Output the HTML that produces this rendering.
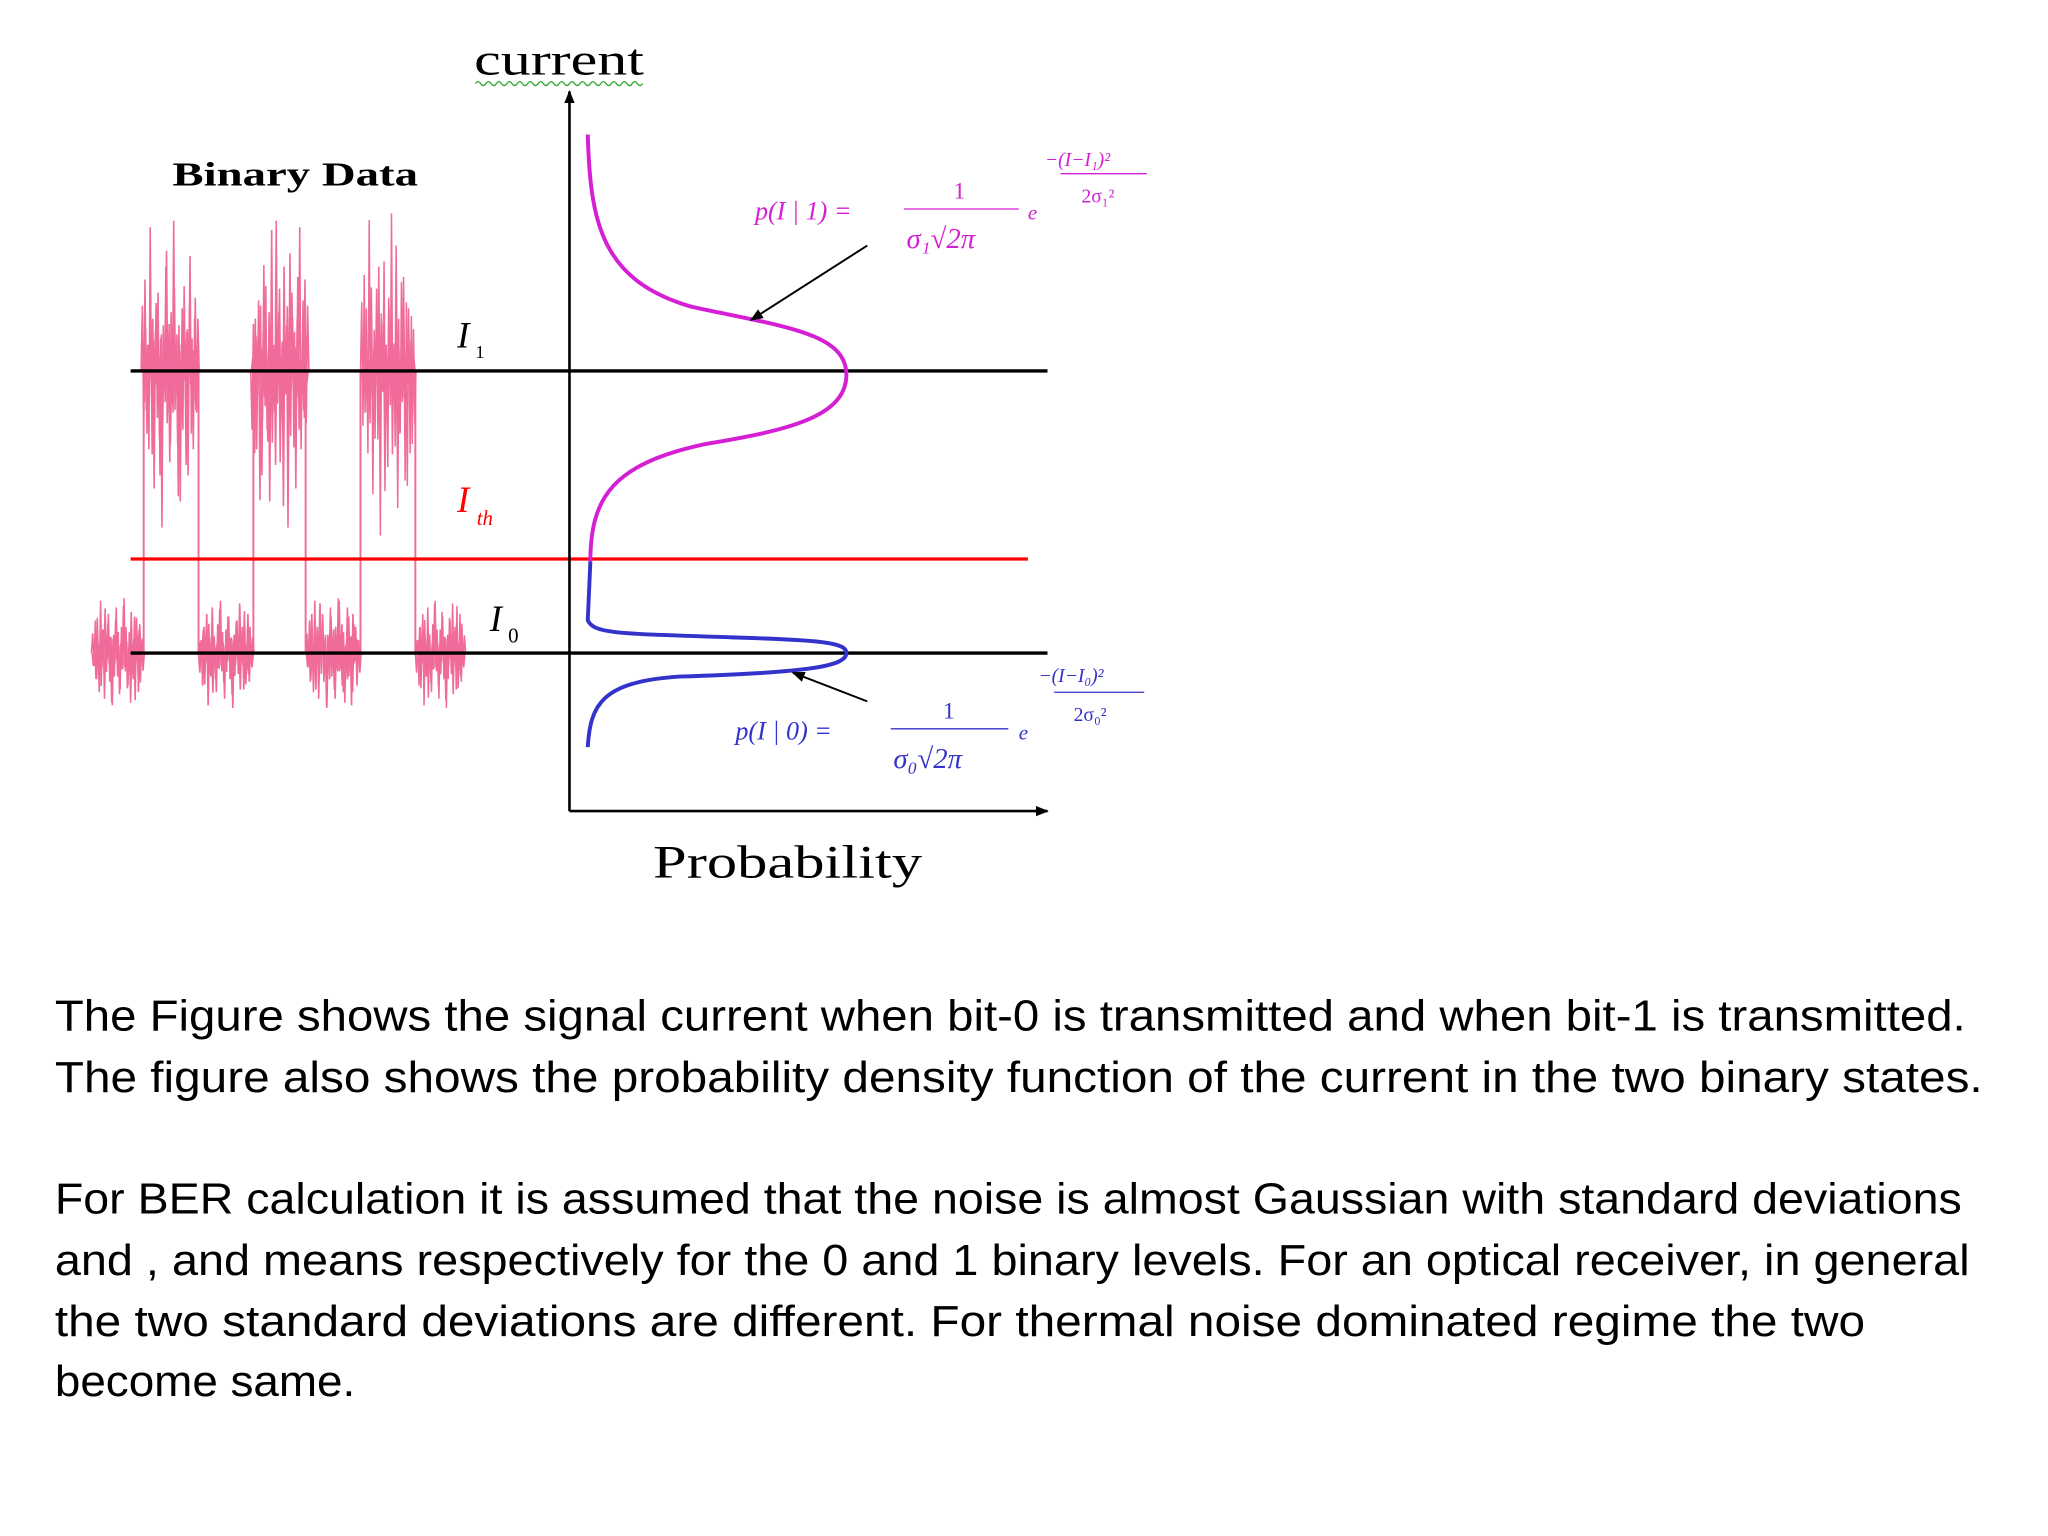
<!DOCTYPE html>
<html><head><meta charset="utf-8"><style>
html,body{margin:0;padding:0;background:#fff;}
svg{display:block}
</style></head><body>
<svg width="2048" height="1536" viewBox="0 0 1568 1176" xmlns="http://www.w3.org/2000/svg">
<defs>
<marker id="ah" markerWidth="10" markerHeight="10" refX="9" refY="5" orient="auto" markerUnits="userSpaceOnUse"><path d="M0,1 L10,5 L0,9 Z" fill="#000"/></marker>
<polyline id="hi" fill="none" stroke="#f06a9a" stroke-width="1.2" points="0,0 1,-50 2,40 3,-70 4,30 5,-20 6,60 7,-110 8,20 9,-40 10,90 11,-30 12,10 13,-60 14,50 15,-25 16,120 17,-35 18,15 19,-80 20,40 21,-10 22,70 23,-45 24,25 25,-115 26,30 27,-20 28,55 29,-35 30,100 31,-15 32,45 33,-65 34,20 35,-30 36,80 37,-50 38,10 39,-25 40,60 41,-40 42,30 43,-10 44,0"/>
<polyline id="lo" fill="none" stroke="#f06a9a" stroke-width="1.2" points="0,0 1,-15 2,10 3,-25 4,20 5,-8 6,30 7,-40 8,12 9,-18 10,35 11,-10 12,5 13,-30 14,22 15,-12 16,40 17,-14 18,8 19,-35 20,18 21,-6 22,28 23,-20 24,12 25,-42 26,14 27,-9 28,25 29,-16 30,38 31,-7 32,20 33,-28 34,9 35,-13 36,30 37,-22 38,6 39,-11 40,0"/>
</defs>
<rect width="1568" height="1176" fill="#fff"/>
<g>
<use href="#hi" transform="translate(108,284)"/><use href="#hi" transform="translate(152.5,284) scale(-1,0.8)"/>
<use href="#hi" transform="translate(192,284) scale(1,-0.9)"/><use href="#hi" transform="translate(236.5,284) scale(-1,1)"/>
<use href="#hi" transform="translate(276,284) scale(0.95,1.05)"/><use href="#hi" transform="translate(318.5,284) scale(-0.95,-0.8)"/>
<use href="#lo" transform="translate(70,500)"/><use href="#lo" transform="translate(110.5,500) scale(-1,-0.9)"/>
<use href="#lo" transform="translate(152,500) scale(1.05,-1)"/><use href="#lo" transform="translate(194.5,500) scale(-1.05,0.8)"/>
<use href="#lo" transform="translate(234,500)"/><use href="#lo" transform="translate(276.5,500) scale(-1.05,-1)"/>
<use href="#lo" transform="translate(318,500) scale(0.95,-1)"/><use href="#lo" transform="translate(356.5,500) scale(-0.95,0.9)"/>
</g>
<g stroke="#f06a9a" stroke-width="1.5">
<line x1="110" y1="284" x2="110" y2="500"/><line x1="152" y1="284" x2="152" y2="500"/>
<line x1="194" y1="284" x2="194" y2="500"/><line x1="234" y1="284" x2="234" y2="500"/>
<line x1="276" y1="284" x2="276" y2="500"/><line x1="318" y1="284" x2="318" y2="500"/>
</g>
<line x1="100" y1="284" x2="802" y2="284" stroke="#000" stroke-width="2.5"/>
<line x1="100" y1="500" x2="802" y2="500" stroke="#000" stroke-width="2.5"/>
<line x1="100" y1="428" x2="787" y2="428" stroke="#f00" stroke-width="2.5"/>
<line x1="436" y1="621" x2="436" y2="70" stroke="#000" stroke-width="2" marker-end="url(#ah)"/>
<line x1="436" y1="621" x2="802" y2="621" stroke="#000" stroke-width="2" marker-end="url(#ah)"/>
<path d="M450,103 C452,170 460,215 530,235 C600,250 648,255 648,287 C648,320 600,330 540,340 C470,355 452,380 452,430" stroke="#d51fd5" stroke-width="3" fill="none"/>
<path d="M452,430 L450,475 C455,485 470,485 560,488 C630,490 648,492 648,500 C648,510 620,515 520,518 C460,522 452,540 450,572" stroke="#3333cc" stroke-width="3" fill="none"/>
<line x1="664" y1="188" x2="575" y2="245" stroke="#000" stroke-width="1.5" marker-end="url(#ah)"/>
<line x1="664" y1="537" x2="607" y2="515" stroke="#000" stroke-width="1.5" marker-end="url(#ah)"/>
<g font-family="Liberation Serif, serif">
<text x="363" y="57" font-size="34" textLength="130" lengthAdjust="spacingAndGlyphs">current</text>
<path d="M364,64 q2,-3 4,0 t4,0 t4,0 t4,0 t4,0 t4,0 t4,0 t4,0 t4,0 t4,0 t4,0 t4,0 t4,0 t4,0 t4,0 t4,0 t4,0 t4,0 t4,0 t4,0 t4,0 t4,0 t4,0 t4,0 t4,0 t4,0 t4,0 t4,0 t4,0 t4,0 t4,0 t4,0" stroke="#3a3" fill="none" stroke-width="1"/>
<text x="132" y="142" font-size="26" font-weight="bold" textLength="188" lengthAdjust="spacingAndGlyphs">Binary Data</text>
<text x="500" y="672" font-size="36" textLength="206" lengthAdjust="spacingAndGlyphs">Probability</text>
<text x="350" y="266" font-size="28" font-style="italic">I</text><text x="364" y="274" font-size="14">1</text>
<text x="350" y="392" font-size="28" font-style="italic" fill="#f00">I</text><text x="365" y="402" font-size="16" font-style="italic" fill="#f00">th</text>
<text x="375" y="483" font-size="28" font-style="italic">I</text><text x="389" y="492" font-size="16">0</text>
<g fill="#d51fd5" font-style="italic">
<text x="578" y="168" font-size="20">p(I | 1) =</text>
<text x="730" y="152" font-size="18" font-style="normal">1</text>
<line x1="692" y1="160" x2="780" y2="160" stroke="#d51fd5"/>
<text x="694" y="190" font-size="22">σ₁√2π</text>
<text x="787" y="168" font-size="16">e</text>
<text x="800" y="127" font-size="15">−(I−I₁)²</text>
<line x1="812" y1="133" x2="878" y2="133" stroke="#d51fd5"/>
<text x="828" y="155" font-size="15" font-style="normal">2σ₁²</text>
</g>
<g fill="#3333cc" font-style="italic">
<text x="563" y="566" font-size="20">p(I | 0) =</text>
<text x="722" y="550" font-size="18" font-style="normal">1</text>
<line x1="682" y1="558" x2="772" y2="558" stroke="#3333cc"/>
<text x="684" y="588" font-size="22">σ₀√2π</text>
<text x="780" y="566" font-size="16">e</text>
<text x="795" y="522" font-size="15">−(I−I₀)²</text>
<line x1="807" y1="530" x2="876" y2="530" stroke="#3333cc"/>
<text x="822" y="552" font-size="15" font-style="normal">2σ₀²</text>
</g>
</g>
<g font-family="Liberation Sans, sans-serif" font-size="33" fill="#000">
<text x="42" y="789" textLength="1463" lengthAdjust="spacingAndGlyphs">The Figure shows the signal current when bit-0 is transmitted and when bit-1 is transmitted.</text>
<text x="42" y="836" textLength="1476" lengthAdjust="spacingAndGlyphs">The figure also shows the probability density function of the current in the two binary states.</text>
<text x="42" y="929" textLength="1460" lengthAdjust="spacingAndGlyphs">For  BER calculation it is assumed that the noise is almost Gaussian with standard deviations</text>
<text x="42" y="976" textLength="1466" lengthAdjust="spacingAndGlyphs">and , and means  respectively for the 0 and 1 binary levels. For an optical receiver, in general</text>
<text x="42" y="1023" textLength="1386" lengthAdjust="spacingAndGlyphs">the two standard deviations are different. For thermal noise dominated regime the two</text>
<text x="42" y="1069" textLength="230" lengthAdjust="spacingAndGlyphs">become same.</text>
</g>
</svg>
</body></html>
